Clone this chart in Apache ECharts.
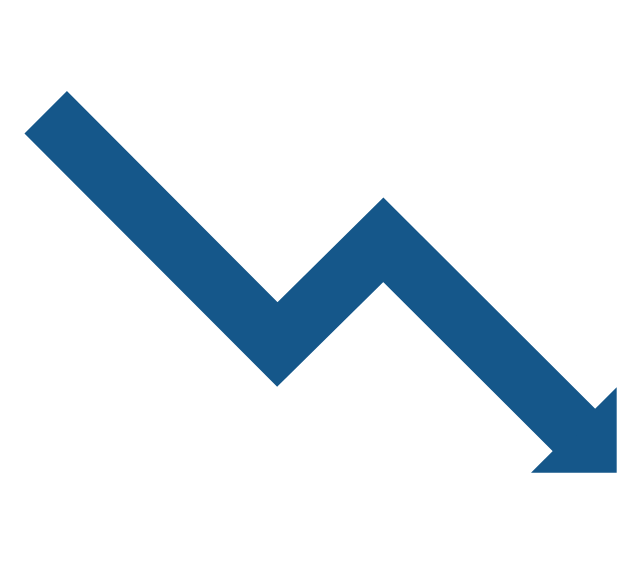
<!DOCTYPE html>
<html lang="en">

<head>
  <meta charset="UTF-8">
  <meta name="viewport" content="width=device-width, initial-scale=1.0">
  <title>Trend down</title>
  <script src="https://cdn.jsdelivr.net/npm/echarts@6/dist/echarts.min.js"></script>
  <style>
    html, body { margin: 0; padding: 0; background: #fff; }
  </style>
</head>

<body>
  <div id="main" style="height: 562px; width: 640px;"></div>
</body>
<script>
  // polyline points (x right, y down); the last one runs under the arrowhead
  const lineX = [45.7, 277.3, 383.3, 578];
  const lineY = [112.3, 344.5, 239.8, 434.1];
  // arrowhead corners
  const headX = [616.7, 616.7, 531];
  const headY = [387.3, 472.7, 472.7];

  const color = '#15578a';

  let myCharts = echarts.init(document.getElementById('main'));
  let option = {
    animation: false,
    grid: { left: 0, right: 0, top: 0, bottom: 0 },
    xAxis: { type: 'value', min: 0, max: 640, show: false },
    yAxis: { type: 'value', min: 0, max: 562, inverse: true, show: false },
    series: [
      {
        type: 'line',
        data: lineX.map((x, i) => [x, lineY[i]]),
        showSymbol: false,
        symbol: 'none',
        silent: true,
        lineStyle: { color: color, width: 60, join: 'miter', cap: 'butt', miterLimit: 10 }
      },
      {
        type: 'custom',
        silent: true,
        data: [0],
        renderItem: (params, api) => {
          let pts = headX.map((x, i) => api.coord([x, headY[i]]))
          return {
            type: 'polygon',
            shape: { points: pts },
            style: { fill: color }
          }
        }
      }
    ]
  }
  myCharts.setOption(option)
</script>

</html>
